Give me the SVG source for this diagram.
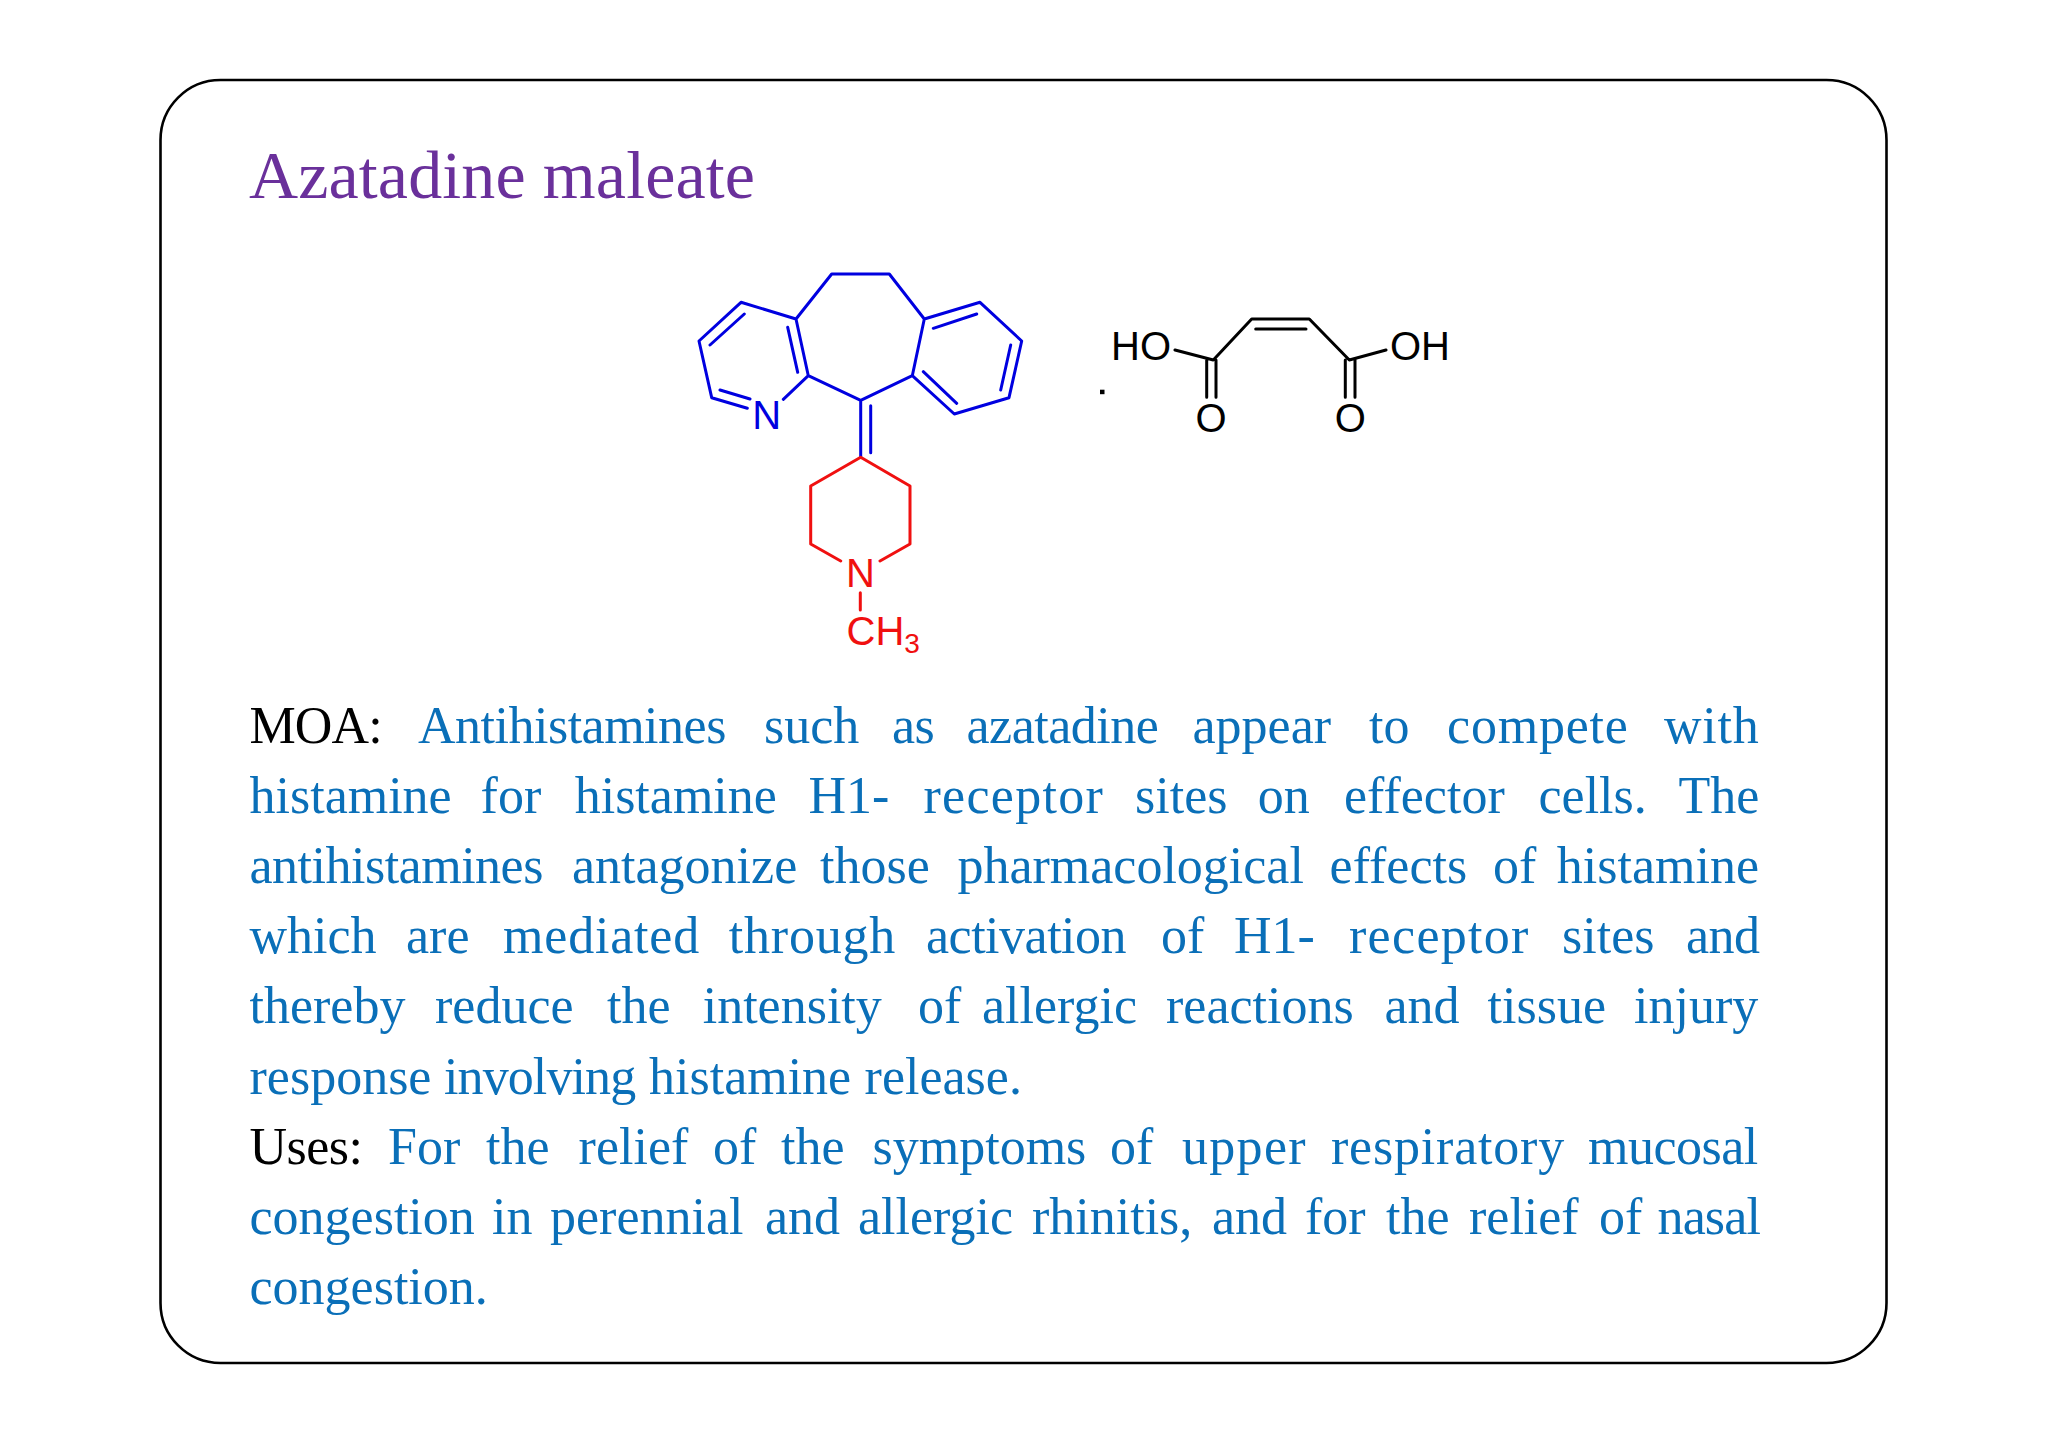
<svg xmlns="http://www.w3.org/2000/svg" width="2048" height="1448" viewBox="0 0 2048 1448">
<style>
text{font-family:"Liberation Serif","Times New Roman",serif}
.body{font-size:52px;fill:#0a6fb8}
.k{fill:#000}
.title{font-size:68px;fill:#6a309b}
.chem{font-family:"Liberation Sans",Arial,sans-serif;font-size:40px}
.sub{font-family:"Liberation Sans",Arial,sans-serif;font-size:28px}
.bl{fill:none;stroke:#0000e0;stroke-width:3;stroke-linejoin:round;stroke-linecap:round}
.rd{fill:none;stroke:#f01010;stroke-width:3;stroke-linejoin:round;stroke-linecap:round}
.bk{fill:none;stroke:#000;stroke-width:3;stroke-linejoin:round;stroke-linecap:round}
.w1{letter-spacing:1.3px}
.w2{letter-spacing:.8px}
.n1{letter-spacing:-.5px}
.n2{letter-spacing:-.9px}
</style>
<rect width="2048" height="1448" fill="#fff"/>
<rect id="frame" x="160.5" y="80" width="1726" height="1283" rx="60" ry="60" fill="#fff" stroke="#000" stroke-width="2.6"/>
<text id="title" class="title" x="249" y="198" textLength="506">Azatadine maleate</text>

<g id="azatadine">
<path class="bl" d="M796 319L831.7 274H889.3L924.3 319L912.3 375.7L860.7 400.3L808.3 375.7L796 319L741 302.3L699 341L711.7 397.7L747.3 408.3M783.3 399.3L808.3 375.7M710 345L744.3 314M720 390L750 399M787.7 327.3L797.7 372.3M924.3 319L980 302.3L1021.7 341L1009 397.7L954.3 414L912.3 375.7M933.3 328.3L976.7 314M1010.7 345L1000.7 390M956.7 403.3L923.3 371.7M860.7 400.3V457.3M870.7 405.7V452.7"/>
<path class="rd" d="M880 561L910 544V486L860.7 457.3L810.7 486V544L840.7 561M860.3 592.7V610"/>
<text class="chem" x="766.7" y="429" fill="#0000e0" text-anchor="middle">N</text>
<text class="chem" x="860.5" y="587" fill="#f01010" text-anchor="middle">N</text>
<text x="846.5" y="645" fill="#f01010"><tspan class="chem">CH</tspan><tspan class="sub" dy="8">3</tspan></text>
</g>

<g id="maleate">
<rect x="1100" y="389.7" width="4.5" height="4.5" fill="#000"/>
<path class="bk" d="M1175 350L1213.3 360L1251.7 319H1309.3L1349.3 360L1386 350M1255.7 329H1306M1206.7 360V397.3M1216 360V397.3M1345.3 360V397.3M1355 360V397.3"/>
<text class="chem" x="1111" y="360" fill="#000">HO</text>
<text class="chem" x="1390" y="360" fill="#000">OH</text>
<text class="chem" x="1211" y="432" fill="#000" text-anchor="middle">O</text>
<text class="chem" x="1350.3" y="432" fill="#000" text-anchor="middle">O</text>
</g>

<g id="body">
<text class="body" y="743"><tspan class="k n2" x="249.5">MOA:</tspan> <tspan class="n1" x="418">Antihistamines</tspan> <tspan x="764">such</tspan> <tspan class="n1" x="892">as</tspan> <tspan class="n1" x="966.5">azatadine</tspan> <tspan x="1192.5">appear</tspan> <tspan x="1369">to</tspan> <tspan class="w2" x="1447">compete</tspan> <tspan class="w2" x="1664">with</tspan></text>
<text class="body" y="813.1"><tspan x="249.5">histamine</tspan> <tspan x="480.6">for</tspan> <tspan x="574.7">histamine</tspan> <tspan x="808.5">H1-</tspan> <tspan class="w1" x="923.4">receptor</tspan> <tspan x="1135">sites</tspan> <tspan x="1257.8">on</tspan> <tspan x="1344">effector</tspan> <tspan x="1538.5">cells.</tspan> <tspan x="1678.4">The</tspan></text>
<text class="body" y="883.2"><tspan class="n1" x="249.5">antihistamines</tspan> <tspan x="572">antagonize</tspan> <tspan x="820">those</tspan> <tspan x="957.4">pharmacological</tspan> <tspan x="1329.6">effects</tspan> <tspan x="1493">of</tspan> <tspan x="1556.8">histamine</tspan></text>
<text class="body" y="953.3"><tspan x="249.5">which</tspan> <tspan x="406">are</tspan> <tspan class="w2" x="503">mediated</tspan> <tspan class="w2" x="728.8">through</tspan> <tspan class="n1" x="926">activation</tspan> <tspan x="1161">of</tspan> <tspan x="1234">H1-</tspan> <tspan class="w1" x="1349">receptor</tspan> <tspan x="1562">sites</tspan> <tspan class="n1" x="1686">and</tspan></text>
<text class="body" y="1023.4"><tspan x="249.5">thereby</tspan> <tspan x="435">reduce</tspan> <tspan x="607">the</tspan> <tspan x="702.7">intensity</tspan> <tspan x="918">of</tspan> <tspan x="982">allergic</tspan> <tspan x="1166">reactions</tspan> <tspan x="1384.5">and</tspan> <tspan x="1487.6">tissue</tspan> <tspan x="1634">injury</tspan></text>
<text class="body" y="1093.5"><tspan x="249.5">response</tspan> <tspan class="n2" x="444">involving</tspan> <tspan x="649">histamine</tspan> <tspan x="864.6">release.</tspan></text>
<text class="body" y="1163.6"><tspan class="k n1" x="249.5">Uses:</tspan> <tspan x="388">For</tspan> <tspan x="486">the</tspan> <tspan x="578.6">relief</tspan> <tspan x="713">of</tspan> <tspan x="781">the</tspan> <tspan x="872.5">symptoms</tspan> <tspan x="1110">of</tspan> <tspan class="w1" x="1182">upper</tspan> <tspan class="w2" x="1331">respiratory</tspan> <tspan class="n1" x="1588">mucosal</tspan></text>
<text class="body" y="1233.7"><tspan x="249.5">congestion</tspan> <tspan x="492">in</tspan> <tspan x="550">perennial</tspan> <tspan x="765">and</tspan> <tspan x="858">allergic</tspan> <tspan x="1032">rhinitis,</tspan> <tspan x="1212">and</tspan> <tspan x="1305">for</tspan> <tspan x="1386">the</tspan> <tspan x="1469">relief</tspan> <tspan x="1599">of</tspan> <tspan class="n2" x="1657.6">nasal</tspan></text>
<text class="body" y="1303.8"><tspan x="249.5">congestion.</tspan></text>
</g>
</svg>
